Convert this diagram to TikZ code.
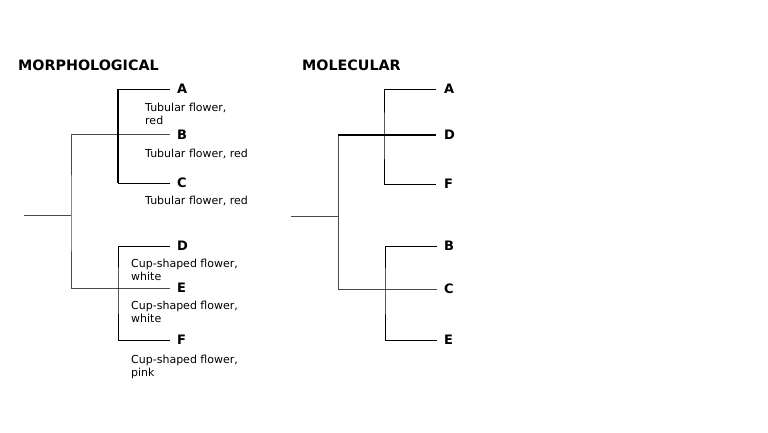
\documentclass[tikz,border=0pt]{standalone}
\usepackage{fontspec}
\setmainfont{DejaVu Sans}
\usetikzlibrary{positioning}
\definecolor{stemgray}{HTML}{4A4A4A}
\tikzset{
  heading/.style={anchor=west, inner sep=0pt, font=\fontsize{14.3}{16}\selectfont\bfseries},
  taxon/.style={anchor=west, inner xsep=7pt, inner ysep=0pt, font=\fontsize{13}{15}\selectfont\bfseries},
  trait/.style={anchor=north west, align=left, inner sep=0pt, font=\fontsize{11}{13}\selectfont},
  branch/.style={draw=black, line width=0.9pt},
  heavybranch/.style={draw=black, line width=1.3pt},
  stem/.style={draw=stemgray, line width=1pt}
}

\begin{document}
\begin{tikzpicture}[x=1pt, y=-1pt]
\useasboundingbox (0,0) rectangle (768,433);

% morphological tree
\node[heading] (morph) at (18,65.5) {MORPHOLOGICAL};
\coordinate (rootm) at (24,215);
\coordinate (jrootm) at (71,215);
\coordinate (cA) at (118,89);
\coordinate (cC) at (118,183);
\coordinate (jbot) at (118,288);

\node[taxon] (mA) at (170,89) {A};
\node[taxon] (mB) at (170,135) {B};
\node[taxon] (mC) at (170,183) {C};
\node[taxon] (mD) at (170,246) {D};
\node[taxon] (mE) at (170,288) {E};
\node[taxon] (mF) at (170,340) {F};

\node[trait] (tA) at (145,103) {Tubular flower,\\red};
\node[trait] (tB) at (145,149) {Tubular flower, red};
\node[trait] (tC) at (145,196) {Tubular flower, red};
\node[trait] (tD) at (131,259) {Cup-shaped flower,\\white};
\node[trait] (tE) at (131,301) {Cup-shaped flower,\\white};
\node[trait] (tF) at (131,355) {Cup-shaped flower,\\pink};

\draw[stem] (rootm) -- (jrootm);
\draw[stem] (mB) -| (jrootm) |- (mE);
\draw[branch] (cA) -- (mA);
\draw[branch] (cC) -- (mC);
\draw[heavybranch] (cA) -- (cC);
\draw[branch] (mD) -| (jbot) |- (mF);

% molecular tree
\node[heading] (molec) at (302,65.5) {MOLECULAR};
\coordinate (rootr) at (291,216);
\coordinate (jrootr) at (338,216);
\coordinate (kD) at (338,135);
\coordinate (jupper) at (384,135);
\coordinate (jlower) at (385,289);

\node[taxon, inner xsep=8pt] (rA) at (436,89) {A};
\node[taxon, inner xsep=8pt] (rD) at (436,135) {D};
\node[taxon, inner xsep=8pt] (rF) at (436,184) {F};
\node[taxon, inner xsep=7pt] (rB) at (437,246) {B};
\node[taxon, inner xsep=7pt] (rC) at (437,289) {C};
\node[taxon, inner xsep=7pt] (rE) at (437,340) {E};

\draw[stem] (rootr) -- (jrootr);
\draw[stem] (kD) |- (rC);
\draw[heavybranch] (kD) -- (rD);
\draw[branch] (rA) -| (jupper) |- (rF);
\draw[branch] (rB) -| (jlower) |- (rE);
\end{tikzpicture}
\end{document}
